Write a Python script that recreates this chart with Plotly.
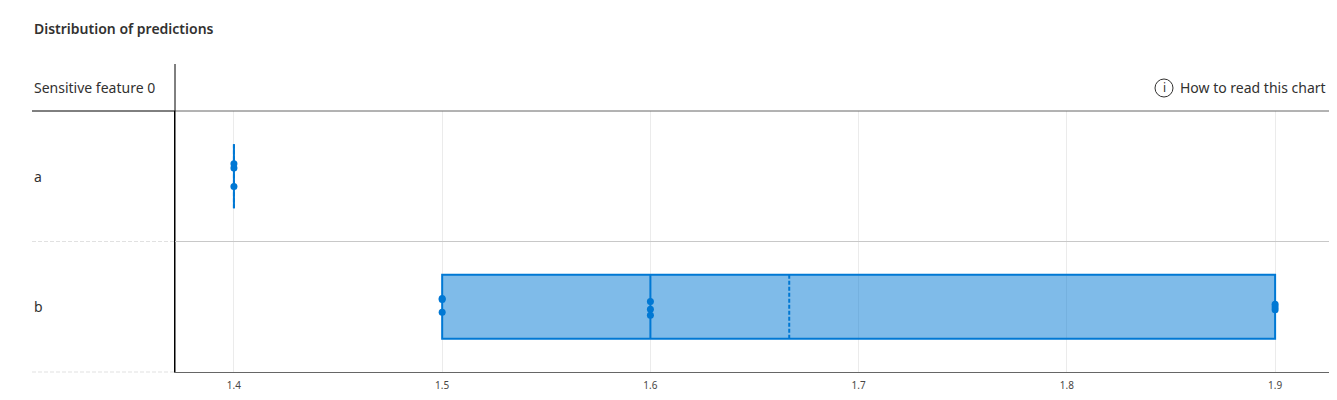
import plotly.graph_objects as go

# ---- data ----
groups = ["a", "b"]
predictions_a = [1.4, 1.4, 1.4]
predictions_b = [1.5, 1.5, 1.5, 1.6, 1.6, 1.6, 1.9, 1.9, 1.9]
x_ticks = [1.4, 1.5, 1.6, 1.7, 1.8, 1.9]
title_text = "Distribution of predictions"
feature_label = "Sensitive feature 0"
help_text = "How to read this chart"

BLUE = "#0078D4"
FILL = "rgba(0,120,212,0.5)"
FONT = "Noto Sans"

OFF = 8  # page body margin
W, H = 1337 - OFF, 400 - OFF
L, R, T, B = 175 - OFF, 4, 111 - OFF, 28
PW = W - L - R
PH = H - T - B


def px_x(px):
    return (px - OFF - L) / PW


def px_y(py):
    return (H - B - (py - OFF)) / PH


fig = go.Figure()
for name, vals in zip(groups, [predictions_a, predictions_b]):
    fig.add_trace(go.Box(
        x=vals,
        y=[name] * len(vals),
        name=name,
        orientation="h",
        boxpoints="all",
        jitter=0.5,
        pointpos=0,
        boxmean=True,
        quartilemethod="exclusive",
        fillcolor=FILL,
        line=dict(color=BLUE, width=2),
        marker=dict(color=BLUE, size=7),
        showlegend=False,
        hoverinfo="x",
    ))

fig.update_layout(
    width=W, height=H,
    margin=dict(l=L, r=R, t=T, b=B, pad=0),
    paper_bgcolor="white",
    plot_bgcolor="white",
    font=dict(family=FONT, color="#323130"),
    boxgap=0.3,
    showlegend=False,
)

fig.update_xaxes(
    range=[1.3717, 1.9278],
    tickvals=x_ticks,
    ticktext=[f"{v:.1f}" for v in x_ticks],
    tickfont=dict(size=10, color="#484644"),
    showgrid=True,
    gridcolor="#ebebeb",
    gridwidth=1,
    zeroline=False,
    showline=True,
    linecolor="#666666",
    linewidth=1,
    ticks="",
    ticklabelstandoff=4,
)
fig.update_yaxes(
    categoryorder="array",
    categoryarray=list(reversed(groups)),
    showticklabels=False,
    showgrid=False,
    zeroline=False,
    showline=True,
    linecolor="black",
    linewidth=1,
    ticks="",
)

shapes = []
shapes.append(dict(type="line", xref="paper", yref="paper",
                   x0=px_x(32), x1=0, y0=1, y1=1,
                   line=dict(color="black", width=1)))
shapes.append(dict(type="line", xref="paper", yref="paper",
                   x0=0, x1=px_x(1333), y0=1, y1=1,
                   line=dict(color="#666666", width=1)))
shapes.append(dict(type="line", xref="paper", yref="paper",
                   x0=0, x1=0, y0=0, y1=px_y(64),
                   line=dict(color="black", width=1)))
shapes.append(dict(type="line", xref="paper", yref="paper",
                   x0=0, x1=px_x(1333), y0=0.5, y1=0.5,
                   line=dict(color="#c8c8c8", width=1)))
for yy in [0.5, 0]:
    shapes.append(dict(type="line", xref="paper", yref="paper",
                       x0=px_x(32), x1=0, y0=yy, y1=yy,
                       line=dict(color="#e1e1e1", width=1, dash="4px,2px")))
shapes.append(dict(type="circle", xref="paper", yref="paper",
                   xsizemode="pixel", ysizemode="pixel",
                   xanchor=px_x(1164), yanchor=px_y(88),
                   x0=-9, x1=9, y0=-9, y1=9,
                   line=dict(color="#323130", width=1)))
fig.update_layout(shapes=shapes)

annotations = [
    dict(text=title_text, xref="paper", yref="paper",
         x=px_x(32), y=px_y(28), xanchor="left", yanchor="middle",
         showarrow=False, font=dict(size=14, color="#323130", weight=600)),
    dict(text=feature_label, xref="paper", yref="paper",
         x=px_x(32), y=px_y(88), xanchor="left", yanchor="middle",
         showarrow=False, font=dict(size=14, color="#323130")),
    dict(text=help_text, xref="paper", yref="paper",
         x=px_x(1328), y=px_y(88), xanchor="right", yanchor="middle",
         showarrow=False, font=dict(size=14, color="#323130")),
    dict(text="i", xref="paper", yref="paper",
         x=px_x(1164), y=px_y(88), xanchor="center", yanchor="middle",
         showarrow=False, font=dict(size=12, color="#323130")),
]
for g in groups:
    annotations.append(dict(text=g, xref="paper", yref="y",
                            x=px_x(32), y=g, xanchor="left", yanchor="middle",
                            showarrow=False, font=dict(size=14, color="#323130")))
fig.update_layout(annotations=annotations)

fig.write_html("out.html")
